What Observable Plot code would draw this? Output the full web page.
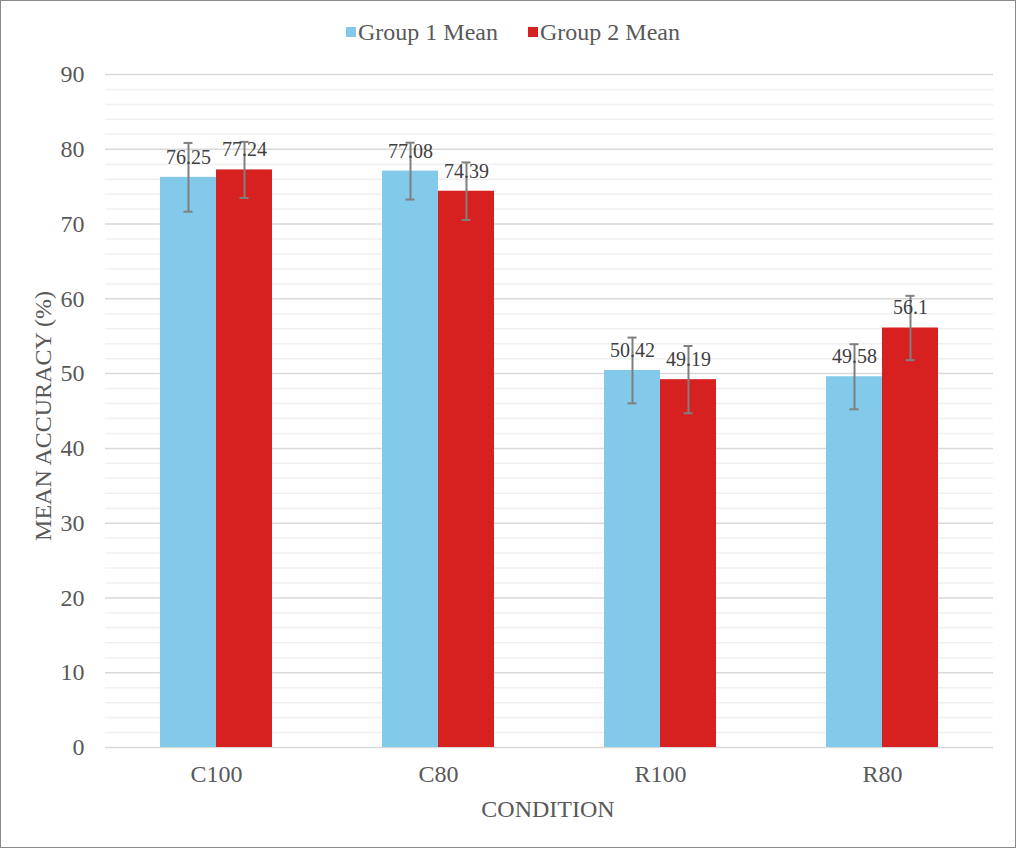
<!DOCTYPE html>
<html>
<head>
<meta charset="utf-8">
<script src="https://cdn.jsdelivr.net/npm/d3@7"></script>
<script src="https://cdn.jsdelivr.net/npm/@observablehq/plot@0.6"></script>
<style>
  html, body { margin: 0; padding: 0; background: #fff; }
  #wrap { position: relative; width: 1016px; height: 848px; background: #fff; overflow: hidden; font-family: "Liberation Serif", "Times New Roman", serif; color: #595959; }
  #frame { position: absolute; left: 0; top: 0; width: 1016px; height: 848px; box-sizing: border-box; border: 1.5px solid #8a8a8a; pointer-events: none; }
  #legend { position: absolute; top: 14px; left: 0; width: 1026px; text-align: center; font-size: 24px; line-height: 30px; white-space: nowrap; }
  #legend span.item { display: inline-flex; align-items: center; margin: 0 15px; }
  #legend span.sw { display: inline-block; width: 10px; height: 10px; margin-right: 2px; }
  #chart { position: absolute; top: 0; left: 0; }
  #ytitle { position: absolute; left: 43px; top: 416px; transform: translate(-50%, -50%) rotate(-90deg); font-size: 24px; white-space: nowrap; line-height: 1; }
  #xtitle { position: absolute; left: 548px; top: 809px; transform: translate(-50%, -50%); font-size: 24px; white-space: nowrap; line-height: 1; }
</style>
</head>
<body>
<div id="wrap">
  <div id="chart"></div>
  <div id="legend"></div>
  <div id="ytitle">MEAN ACCURACY (%)</div>
  <div id="xtitle">CONDITION</div>
  <div id="frame"></div>
</div>
<script>
const conditions = ["C100", "C80", "R100", "R80"];
const groups = ["Group 1 Mean", "Group 2 Mean"];
const group1Means = [76.25, 77.08, 50.42, 49.58];
const group2Means = [77.24, 74.39, 49.19, 56.1];
const group1Err = [4.6, 3.8, 4.4, 4.35];
const group2Err = [3.75, 3.85, 4.5, 4.3];
const group1Labels = ["76.25", "77.08", "50.42", "49.58"];
const group2Labels = ["77.24", "74.39", "49.19", "56.1"];
const yTicks = [0, 10, 20, 30, 40, 50, 60, 70, 80, 90];
const minorTicks = [2, 4, 6, 8, 12, 14, 16, 18, 22, 24, 26, 28, 32, 34, 36, 38, 42, 44, 46, 48, 52, 54, 56, 58, 62, 64, 66, 68, 72, 74, 76, 78, 82, 84, 86, 88];
const colors = ["#83caea", "#d72020"];

const rows = [];
conditions.forEach((c, i) => {
  rows.push({cond: c, group: groups[0], value: group1Means[i], err: group1Err[i], label: group1Labels[i]});
  rows.push({cond: c, group: groups[1], value: group2Means[i], err: group2Err[i], label: group2Labels[i]});
});

const font = "'Liberation Serif', 'Times New Roman', serif";

const plot = Plot.plot({
  width: 1016,
  height: 848,
  marginLeft: 104,
  marginRight: 23,
  marginTop: 74,
  marginBottom: 101,
  style: {fontFamily: font, fontSize: "24px", color: "#595959", background: "transparent"},
  fx: {domain: conditions, paddingInner: 0, paddingOuter: 0, label: null},
  x: {domain: groups, paddingInner: 0, paddingOuter: 0.982, axis: null},
  y: {domain: [0, 90], label: null},
  color: {domain: groups, range: colors},
  marks: [
    Plot.ruleY(minorTicks, {stroke: "#f0f0f0", strokeWidth: 1.5}),
    Plot.ruleY(yTicks, {stroke: "#d9d9d9", strokeWidth: 1.5}),
    Plot.axisY({ticks: yTicks, tickSize: 0, tickPadding: 21, label: null, fontSize: 24, fill: "#595959"}),
    Plot.axisFx({anchor: "bottom", tickSize: 0, tickPadding: 17, label: null, fontSize: 24, fill: "#595959"}),
    Plot.barY(rows, {fx: "cond", x: "group", y: "value", fill: "group"}),
    Plot.ruleX(rows, {fx: "cond", x: "group", y1: d => d.value - d.err, y2: d => d.value + d.err, stroke: "#7f7f7f", strokeWidth: 2}),
    Plot.tickY(rows, {fx: "cond", x: "group", y: d => d.value - d.err, stroke: "#7f7f7f", strokeWidth: 2, insetLeft: 23.5, insetRight: 23.5}),
    Plot.tickY(rows, {fx: "cond", x: "group", y: d => d.value + d.err, stroke: "#7f7f7f", strokeWidth: 2, insetLeft: 23.5, insetRight: 23.5}),
    Plot.text(rows, {fx: "cond", x: "group", y: "value", text: "label", dy: -20, fontSize: 20, fill: "#404040", textAnchor: "middle"})
  ]
});
document.getElementById("chart").appendChild(plot);

const legend = document.getElementById("legend");
groups.forEach((g, i) => {
  const item = document.createElement("span");
  item.className = "item";
  const sw = document.createElement("span");
  sw.className = "sw";
  sw.style.background = colors[i];
  item.appendChild(sw);
  item.appendChild(document.createTextNode(g));
  legend.appendChild(item);
});
</script>
</body>
</html>
